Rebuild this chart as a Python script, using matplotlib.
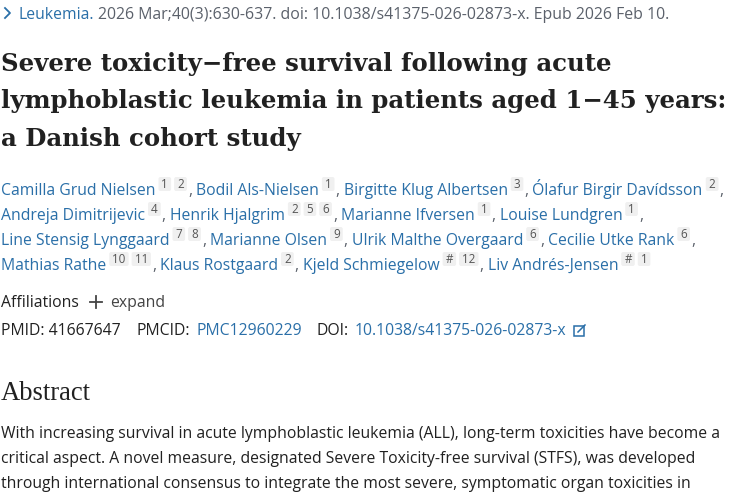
import matplotlib
matplotlib.use("Agg")
import matplotlib.pyplot as plt
from matplotlib.patches import FancyBboxPatch, Rectangle

SANS = "Open Sans"
SERIF = "DejaVu Serif"
BLUE = "#2a6fa8"
DARK = "#212121"
GREY = "#5b616b"

title_lines = [
    "Severe toxicity\u2212free survival following acute",
    "lymphoblastic leukemia in patients aged 1\u221245 years:",
    "a Danish cohort study",
]

authors = [
    [("Camilla Grud Nielsen", ["1", "2"]), ("Bodil Als-Nielsen", ["1"]),
     ("Birgitte Klug Albertsen", ["3"]), ("Ólafur Birgir Davídsson", ["2"])],
    [("Andreja Dimitrijevic", ["4"]), ("Henrik Hjalgrim", ["2", "5", "6"]),
     ("Marianne Ifversen", ["1"]), ("Louise Lundgren", ["1"])],
    [("Line Stensig Lynggaard", ["7", "8"]), ("Marianne Olsen", ["9"]),
     ("Ulrik Malthe Overgaard", ["6"]), ("Cecilie Utke Rank", ["6"])],
    [("Mathias Rathe", ["10", "11"]), ("Klaus Rostgaard", ["2"]),
     ("Kjeld Schmiegelow", ["#", "12"]), ("Liv Andrés-Jensen", ["#", "1"])],
]

abstract_lines = [
    "With increasing survival in acute lymphoblastic leukemia (ALL), long-term toxicities have become a",
    "critical aspect. A novel measure, designated Severe Toxicity-free survival (STFS), was developed",
    "through international consensus to integrate the most severe, symptomatic organ toxicities in",
]

fig = plt.figure(figsize=(7.5, 5), dpi=100)
ax = fig.add_axes([0, 0, 1, 1])
ax.set_xlim(0, 750)
ax.set_ylim(500, 0)
ax.axis("off")
renderer = fig.canvas.get_renderer()


def put(x, y, s, color=DARK, size=11.3, **kw):
    # y is the middle of the line, the text sits on a baseline below it
    kw.setdefault("family", SANS)
    t = ax.text(x, y + 0.53 * size, s, color=color, fontsize=size, va="baseline", ha="left", **kw)
    return x + t.get_window_extent(renderer).width


# journal line
ax.plot([5, 10, 5], [8, 13, 18], color=BLUE, lw=1.3)
x = put(18, 13, "Leukemia.", BLUE)
put(x + 4, 13, "2026 Mar;40(3):630-637. doi: 10.1038/s41375-026-02873-x. Epub 2026 Feb 10.", GREY, 11.4)

# title
for line, y in zip(title_lines, [62, 99, 137]):
    put(1, y, line, "#212121", 17.6, fontweight="bold", family=SERIF)

# authors
for row, y in zip(authors, [189, 214, 239, 264]):
    x = 1
    for i, (name, sups) in enumerate(row):
        x = put(x, y, name, BLUE) + 3
        for s in sups:
            t = ax.text(x + 3, y - 1, s, color="#555555", fontsize=8.4, family=SANS,
                        va="baseline", ha="left", zorder=3)
            w = t.get_window_extent(renderer).width
            ax.add_patch(FancyBboxPatch((x, y - 12), w + 6, 14,
                                        boxstyle="round,pad=0,rounding_size=2",
                                        fc="#f0f0f0", ec="none", zorder=2))
            x += w + 9
        x -= 2
        last = row is authors[-1] and i == len(row) - 1
        if not last:
            x = put(x, y, ",", GREY) + 4

# affiliations row
put(1, 301, "Affiliations", DARK)
ax.plot([90, 102], [302, 302], color="#444444", lw=1.3)
ax.plot([96, 96], [296, 308], color="#444444", lw=1.3)
put(110, 301, "expand", "#444444")

# ids row
put(1, 329, "PMID: 41667647", DARK)
put(137, 329, "PMCID:", DARK)
put(196, 329, "PMC12960229", BLUE)
put(317, 329, "DOI:", DARK)
put(355, 329, "10.1038/s41375-026-02873-x", BLUE)
ax.add_patch(Rectangle((574, 326), 10, 10, fc="none", ec=BLUE, lw=1.1))
ax.plot([578, 585], [332, 325], color=BLUE, lw=1.1)

# abstract
put(1, 390, "Abstract", DARK, 19.2, family="Liberation Serif")
for line, y in zip(abstract_lines, [432, 457, 482]):
    put(1, y, line, DARK, 11.33)

fig.savefig("out.png", dpi=100)
